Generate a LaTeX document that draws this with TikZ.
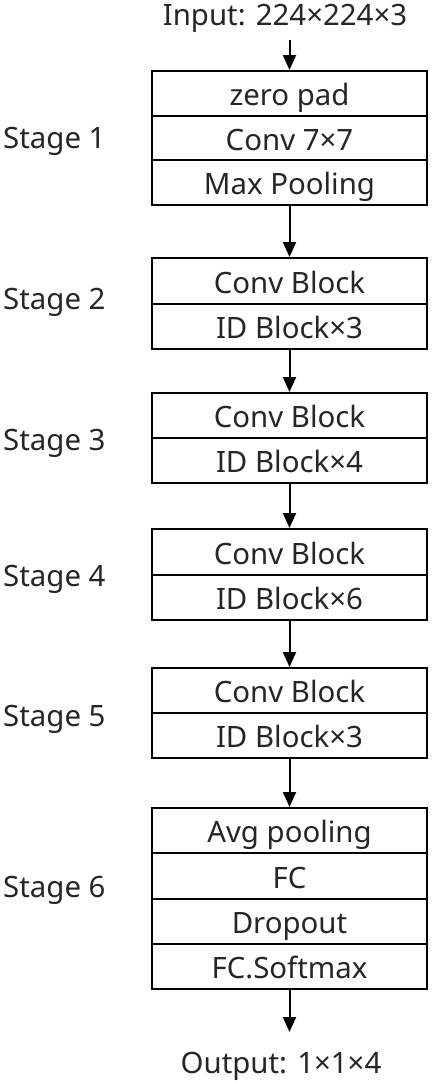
\documentclass[tikz,border=0pt]{standalone}
\usepackage{fontspec}
\setmainfont{Noto Sans}
\usetikzlibrary{arrows.meta}
\begin{document}
\begin{tikzpicture}[x=1bp,y=-1bp,
  cell/.style={draw=black, line width=2bp, minimum width=275bp, inner sep=0pt,
    text height=24.5bp, text depth=0bp, font=\fontsize{29.5}{32}\selectfont, text=black!85},
  lbl/.style={inner sep=0pt, anchor=base west, font=\fontsize{29.5}{32}\selectfont, text=black!85},
  io/.style={inner sep=0pt, anchor=base, font=\fontsize{29.5}{32}\selectfont, text=black!85},
  flow/.style={line width=2bp, -{Triangle[length=15bp,width=13bp]}}]
\useasboundingbox (0,0) rectangle (432,1083);
\fill[white] (0,0) rectangle (432,1083);
\def\cx{289.5}
% input / output
\node[io] (in) at (285,25) {Input: 224×224×3};
\node[io] (out) at (281,1073) {Output: 1×1×4};
\coordinate (inA) at (\cx,40);
\coordinate (outB) at (\cx,1032);
% Stage 1
\node[cell, minimum height=44.5bp] (a1) at (\cx,93.25) {zero pad};
\node[cell, minimum height=44.5bp] (a2) at (\cx,137.75) {Conv 7×7};
\node[cell, minimum height=44.5bp] (a3) at (\cx,182.25) {Max Pooling};
% Stage 2
\node[cell, minimum height=45.5bp] (b1) at (\cx,280.75) {Conv Block};
\node[cell, minimum height=45.5bp] (b2) at (\cx,326.25) {ID Block×3};
% Stage 3
\node[cell, minimum height=45bp] (c1) at (\cx,415.5) {Conv Block};
\node[cell, minimum height=45bp] (c2) at (\cx,460.5) {ID Block×4};
% Stage 4
\node[cell, minimum height=45.5bp] (d1) at (\cx,551.75) {Conv Block};
\node[cell, minimum height=45.5bp] (d2) at (\cx,597.25) {ID Block×6};
% Stage 5
\node[cell, minimum height=45bp] (e1) at (\cx,690.5) {Conv Block};
\node[cell, minimum height=45bp] (e2) at (\cx,735.5) {ID Block×3};
% Stage 6
\node[cell, minimum height=45.25bp] (f1) at (\cx,830.625) {Avg pooling};
\node[cell, minimum height=45.25bp] (f2) at (\cx,875.875) {FC};
\node[cell, minimum height=45.25bp] (f3) at (\cx,921.125) {Dropout};
\node[cell, minimum height=45.25bp] (f4) at (\cx,966.375) {FC.Softmax};
% stage labels
\node[lbl] (s1) at (3,148) {Stage 1};
\node[lbl] (s2) at (3,309) {Stage 2};
\node[lbl] (s3) at (3,450) {Stage 3};
\node[lbl] (s4) at (3,586) {Stage 4};
\node[lbl] (s5) at (3,726) {Stage 5};
\node[lbl] (s6) at (3,897) {Stage 6};
% arrows
\draw[flow] (inA) -- (a1.north);
\draw[flow] (a3.south) -- (b1.north);
\draw[flow] (b2.south) -- (c1.north);
\draw[flow] (c2.south) -- (d1.north);
\draw[flow] (d2.south) -- (e1.north);
\draw[flow] (e2.south) -- (f1.north);
\draw[flow] (f4.south) -- (outB);
\end{tikzpicture}
\end{document}
